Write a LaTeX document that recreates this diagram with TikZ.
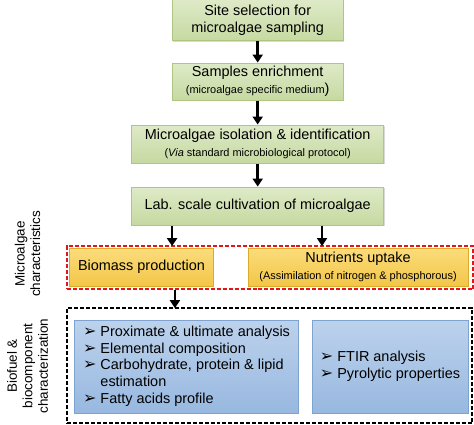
\documentclass[tikz,border=0pt]{standalone}
\usepackage{fontspec}
\setmainfont{Liberation Sans}
\newfontfamily\symfont{DejaVu Sans}
\usepackage{tikz}
\usetikzlibrary{arrows.meta,shadows}
\definecolor{greentop}{HTML}{DEEAC7}
\definecolor{greenbot}{HTML}{C6D9A1}
\definecolor{greenedge}{HTML}{AEC682}
\definecolor{goldtop}{HTML}{FBDC7C}
\definecolor{goldbot}{HTML}{F2C647}
\definecolor{goldedge}{HTML}{DBAC2C}
\definecolor{bluetop}{HTML}{BCD2EC}
\definecolor{bluebot}{HTML}{98B8E0}
\definecolor{blueedge}{HTML}{7FA3CF}
\definecolor{framered}{HTML}{E2151B}
\newcommand\subtxt[1]{{\fontsize{11}{13}\selectfont #1}}
\newcommand\bul{{\symfont\fontsize{16}{13}\selectfont ➢}}
\tikzset{
    boxbase/.style={rectangle, inner sep=0pt, align=center,
    	font=\fontsize{14.5}{17}\selectfont,
    	drop shadow={opacity=.3, shadow xshift=1pt, shadow yshift=-1.2pt}}
}
\tikzset{
    greenbox/.style={boxbase, draw=greenedge, line width=1pt,
    	top color=greentop, bottom color=greenbot},
    goldbox/.style={boxbase, draw=goldedge, line width=1pt,
    	top color=goldtop, bottom color=goldbot, minimum height=1.34cm},
    bluebox/.style={boxbase, draw=blueedge, line width=1pt,
    	top color=bluetop, bottom color=bluebot, minimum height=3.28cm}
}
\tikzset{
    frame/.style={rectangle, inner sep=0pt, line width=1.5pt,
    	dash pattern=on 4pt off 2pt},
    sidelabel/.style={rotate=90, align=center,
    	font=\fontsize{13.5}{15.5}\selectfont},
    flow/.style={line width=2.5pt, -{Triangle[length=8pt,width=10pt]}}
}

\begin{document}
\begin{tikzpicture}
	\useasboundingbox (0cm,0cm) rectangle (16.72cm,-14.96cm);
	% dashed frames
	\node [frame, draw=framered, minimum width=14.32cm, minimum height=1.52cm]
		(char) at (9.53cm,-9.44cm) {};
	\node [frame, draw=black, minimum width=14.29cm, minimum height=4.06cm]
		(biof) at (9.51cm,-12.89cm) {};
	% main steps
	\node [greenbox, minimum width=6.03cm, minimum height=1.45cm] (site)
		at (9.09cm,-0.72cm) {Site selection for\\microalgae sampling};
	\node [greenbox, minimum width=6.03cm, minimum height=1.31cm] (enrich)
		at (9.09cm,-2.88cm)
		{Samples enrichment\\\subtxt{(microalgae specific medium})};
	\node [greenbox, minimum width=8.89cm, minimum height=1.34cm] (isol)
		at (9.09cm,-5.08cm) {Microalgae isolation \& identification\\
		\subtxt{(\textit{Via} standard microbiological protocol)}};
	\node [greenbox, minimum width=8.89cm, minimum height=1.34cm] (cult)
		at (9.09cm,-7.27cm) {Lab. scale cultivation of microalgae};
	\node [goldbox, minimum width=5.05cm] (biomass) at (4.99cm,-9.42cm)
		{Biomass production};
	\node [goldbox, minimum width=7.76cm] (nutr) at (12.63cm,-9.42cm)
		{Nutrients uptake\\
		\subtxt{(Assimilation of nitrogen \& phosphorous)}};
	\node [bluebox, minimum width=7.87cm] (anal) at (6.58cm,-12.93cm)
		{\fontsize{14.5}{16.7}\selectfont
		\begin{tabular}{@{}l@{\hspace{4bp}}l@{}}
		\bul & Proximate \& ultimate analysis\\
		\bul & Elemental composition\\
		\bul & Carbohydrate, protein \& lipid\\
		     & estimation\\
		\bul & Fatty acids profile
		\end{tabular}};
	\node [bluebox, minimum width=5.50cm] (ftir) at (13.76cm,-12.93cm)
		{\fontsize{14.5}{17.5}\selectfont
		\begin{tabular}{@{}l@{\hspace{4bp}}l@{}}
		\bul & FTIR analysis\\
		\bul & Pyrolytic properties
		\end{tabular}};
	% side labels
	\node [sidelabel] (lchar) at (0.97cm,-8.96cm)
		{Microalgae\\characteristics};
	\node [sidelabel] (lbiof) at (0.97cm,-12.91cm)
		{Biofuel \&\\biocomponent\\characterization};
	% arrows
	\coordinate (tobio) at (6.07cm,-8.68cm);
	\coordinate (tonut) at (11.36cm,-8.68cm);
	\coordinate (tobiof) at (6.17cm,-10.87cm);
	\draw [flow] (site) -- (enrich); \draw [flow] (enrich) -- (isol);
	\draw [flow] (isol) -- (cult);
	\draw [flow] (cult.south -| tobio) -- (tobio);
	\draw [flow] (cult.south -| tonut) -- (tonut);
	\draw [flow] (char.south -| tobiof) -- (tobiof);
\end{tikzpicture}
\end{document}
